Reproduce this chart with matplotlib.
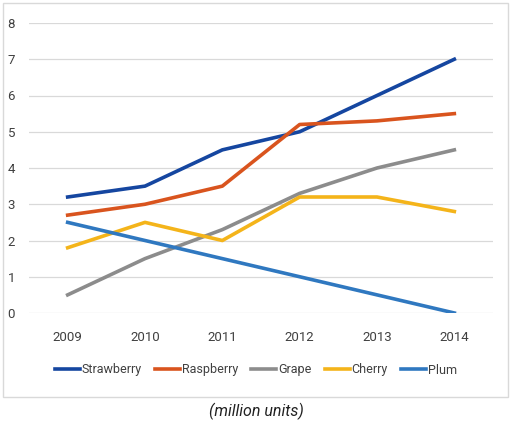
import matplotlib
matplotlib.use("Agg")
import matplotlib.pyplot as plt
from matplotlib.patches import Rectangle

years = ["2009", "2010", "2011", "2012", "2013", "2014"]
strawberry = [3.2, 3.5, 4.5, 5.0, 6.0, 7.0]
raspberry = [2.7, 3.0, 3.5, 5.2, 5.3, 5.5]
grape = [0.5, 1.5, 2.3, 3.3, 4.0, 4.5]
cherry = [1.8, 2.5, 2.0, 3.2, 3.2, 2.8]
plum = [2.5, 2.0, 1.5, 1.0, 0.5, 0.0]

names = ["Strawberry", "Raspberry", "Grape", "Cherry", "Plum"]
series = [strawberry, raspberry, grape, cherry, plum]
colors = ["#1546a0", "#d9541e", "#8c8c8c", "#f4b41a", "#2f78c0"]

plt.rcParams["font.family"] = ["Roboto", "DejaVu Sans"]

fig = plt.figure(figsize=(5.12, 4.24), dpi=100)
ax = fig.add_axes([29/512, 1 - 313/424, 464/512, 290/424])

x = list(range(len(years)))
for name, vals, c in zip(names, series, colors):
    ax.plot(x, vals, color=c, lw=2.6, label=name)

ax.set_xlim(-0.5, 5.5)
ax.set_ylim(0, 8)
ax.set_yticks(range(0, 9))
ax.set_xticks(x)
ax.set_xticklabels(years)
ax.grid(axis="y", color="#d9d9d9", lw=0.9)
ax.set_axisbelow(True)
for s in ax.spines.values():
    s.set_visible(False)
ax.tick_params(length=0, labelsize=9.5, colors="#404040")
ax.tick_params(axis="x", pad=13)
ax.tick_params(axis="y", pad=10)

fig.legend(loc="center", bbox_to_anchor=(0.5, 1 - 370/424), ncol=5, frameon=False,
           fontsize=9, handlelength=2.0, handletextpad=0.15, columnspacing=1.05,
           labelcolor="#404040")

fig.patches.append(Rectangle((3/512, 1 - 397/424), 505/512, 394/424, transform=fig.transFigure,
                             fill=False, edgecolor="#d9d9d9", lw=1))
fig.text(0.5, 1 - 411/424, "(million units)", ha="center", va="center",
         fontsize=11.5, style="italic", color="#222222")

fig.savefig("out.png", dpi=100)
